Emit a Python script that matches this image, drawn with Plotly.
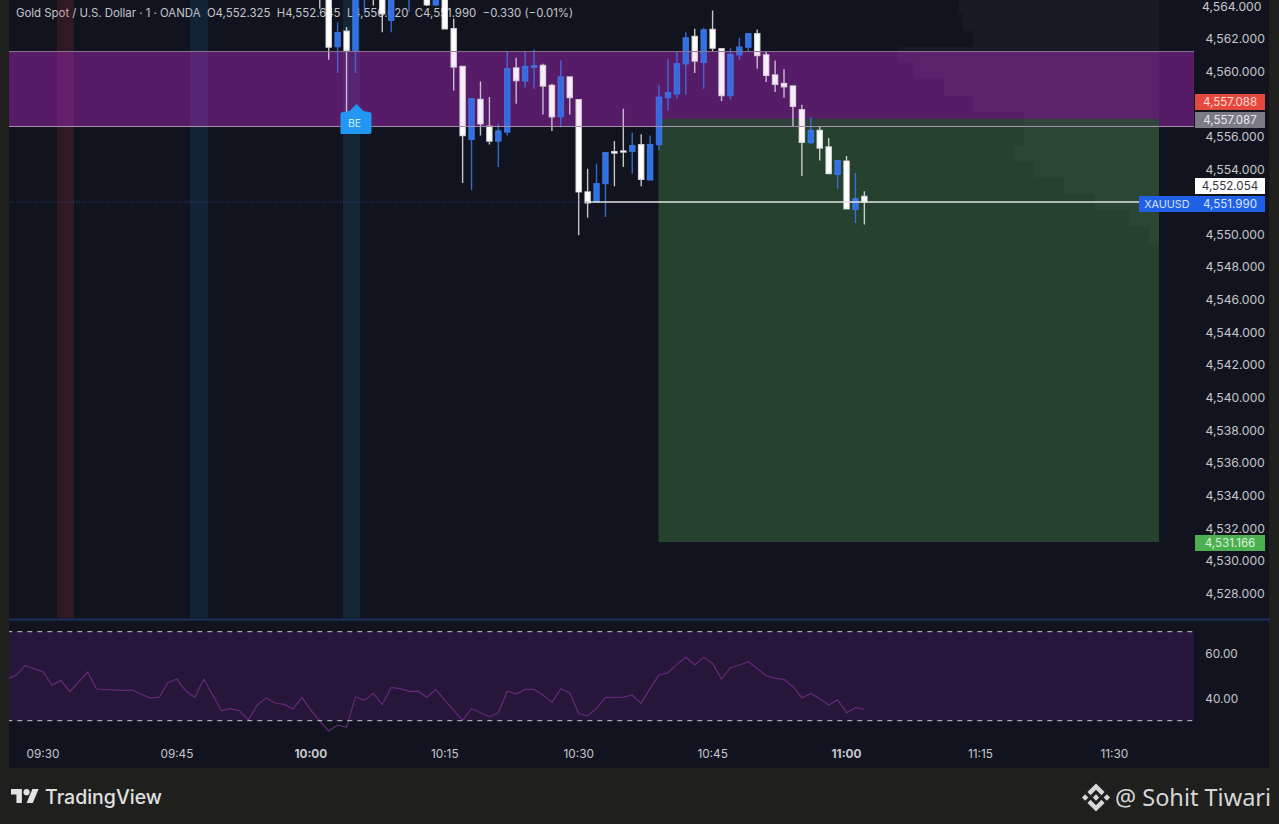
import plotly.graph_objects as go

# ---------- data ----------
candle_minutes = list(range(601, 663))  # 10:01 ... 11:02, minutes of day

candle_open = [4566.00, 4566.20, 4561.52, 4562.46, 4561.28, 4565.50, 4566.00, 4565.40, 4563.12, 4566.00,
               4565.00, 4565.80, 4565.20, 4564.07, 4565.00,
               4562.61, 4560.30, 4555.83, 4558.28, 4556.63, 4555.73, 4556.28, 4560.20, 4559.40, 4560.24,
               4560.36, 4559.14, 4557.22, 4559.65, 4558.26, 4552.61, 4551.99, 4553.12, 4555.07, 4555.12,
               4555.10, 4555.50, 4553.36, 4555.52, 4558.40, 4558.63, 4560.46, 4562.14, 4560.56, 4562.56,
               4561.38, 4558.52, 4561.01, 4561.48, 4562.30, 4561.01, 4559.77, 4559.26, 4559.10, 4557.65,
               4555.63, 4556.38, 4555.36, 4553.69, 4554.50, 4551.54, 4552.325]
candle_high = [4566.50, 4566.60, 4563.01, 4562.71, 4566.00, 4566.40, 4566.50, 4565.80, 4566.00, 4566.30,
               4566.20, 4566.00, 4565.50, 4565.30, 4565.20,
               4563.22, 4560.30, 4558.36, 4559.38, 4558.42, 4556.79, 4561.18, 4560.83, 4561.24, 4561.34,
               4560.46, 4559.24, 4560.67, 4559.69, 4558.30, 4554.03, 4554.34, 4555.05, 4555.73, 4557.71,
               4556.24, 4556.14, 4556.07, 4559.18, 4560.77, 4561.18, 4562.40, 4562.61, 4562.67, 4563.73,
               4561.42, 4561.42, 4562.05, 4562.34, 4562.56, 4561.18, 4560.67, 4560.12, 4559.10, 4557.95,
               4557.20, 4556.63, 4555.91, 4554.54, 4554.81, 4553.77, 4552.645]
candle_low = [4563.83, 4560.71, 4559.89, 4557.40, 4559.89, 4563.52, 4564.03, 4562.40, 4562.40, 4564.80,
              4563.63, 4564.70, 4564.00, 4564.00, 4562.60,
              4558.83, 4553.16, 4552.71, 4556.07, 4555.52, 4554.14, 4556.07, 4558.01, 4558.99, 4558.93,
              4557.36, 4556.34, 4556.58, 4557.36, 4549.95, 4551.03, 4551.95, 4551.07, 4552.95, 4554.14,
              4553.73, 4552.95, 4553.32, 4555.16, 4557.61, 4558.32, 4558.58, 4559.89, 4558.93, 4561.18,
              4558.18, 4558.26, 4560.71, 4561.24, 4560.16, 4559.34, 4558.73, 4558.38, 4556.63, 4553.58,
              4555.56, 4554.54, 4553.69, 4552.81, 4551.54, 4550.71, 4550.620]
candle_close = [4564.60, 4561.48, 4562.36, 4561.28, 4565.50, 4566.00, 4565.20, 4563.52, 4565.60, 4565.20,
                4565.80, 4565.10, 4564.07, 4565.00, 4562.61,
                4560.26, 4556.07, 4558.32, 4556.79, 4555.73, 4556.34, 4560.16, 4559.44, 4560.30, 4560.34,
                4559.10, 4557.22, 4559.65, 4558.40, 4552.61, 4551.95, 4553.12, 4555.01, 4554.99, 4555.05,
                4555.44, 4553.38, 4555.50, 4558.42, 4558.69, 4560.46, 4562.05, 4560.63, 4562.54, 4561.42,
                4558.52, 4561.03, 4561.48, 4562.30, 4560.97, 4559.75, 4559.20, 4559.05, 4557.85, 4555.65,
                4556.38, 4555.30, 4553.73, 4554.52, 4551.58, 4552.20, 4551.990]

rsi_minutes = list(range(566, 663))  # 09:26 ... 11:02
rsi_values = [48.58, 50.52, 54.72, 53.52, 52.02, 46.03, 48.13, 43.03, 47.53, 51.87,
              44.23, 43.93, 43.78, 43.63, 43.78, 41.99, 40.19, 40.49, 47.08, 48.73,
              43.33, 40.49, 48.73, 41.69, 34.49, 35.39, 34.49, 30.45, 37.04, 40.34,
              37.94, 37.34, 35.24, 40.49, 34.79, 29.85, 25.36, 28.05, 27.00, 40.79,
              39.14, 42.28, 37.19, 44.98, 44.38, 43.18, 43.33, 40.49, 44.08,
              39.29, 34.79, 30.15, 35.39, 33.60, 31.80, 33.60, 43.33, 41.99, 44.08,
              44.08, 41.54, 38.24, 44.38, 42.58, 33.30, 32.10, 35.54, 40.49, 40.49,
              40.64, 41.54, 37.79, 44.53, 50.52, 51.57, 55.32, 58.46, 55.02, 58.46,
              55.77, 48.73, 53.82, 55.02, 56.52, 53.52, 50.22, 49.03, 48.58, 45.28,
              40.34, 42.28, 39.89, 37.04, 39.44, 33.60, 35.84, 35.09]

profile_prices = [4564, 4563, 4562, 4561, 4560, 4559, 4558, 4557, 4556, 4555, 4554, 4553, 4552, 4551, 4550]
profile_sizes = [22.4, 21.9, 20.8, 29.2, 27.4, 24.1, 20.8, 15.1, 15.1, 16.2, 14.0, 10.6, 7.3, 3.4, 1.1]
profile_end = 695.0

price_top_tick = 4564
price_top_label = "4,564.000"
price_ticks = [4562, 4560, 4558, 4556, 4554, 4552, 4550, 4548, 4546, 4544, 4542, 4540, 4538, 4536, 4534, 4532, 4530, 4528]
price_tick_text = ["4,562.000", "4,560.000", "4,558.000", "4,556.000", "4,554.000", "4,552.000", "4,550.000",
                   "4,548.000", "4,546.000", "4,544.000", "4,542.000", "4,540.000", "4,538.000", "4,536.000",
                   "4,534.000", "4,532.000", "4,530.000", "4,528.000"]
time_ticks = [570, 585, 600, 615, 630, 645, 660, 675, 690]
time_tick_text = ["09:30", "09:45", "<b>10:00</b>", "10:15", "10:30", "10:45", "<b>11:00</b>", "11:15", "11:30"]
rsi_ticks = [60, 40]
rsi_tick_text = ["60.00", "40.00"]

zone_top, zone_bottom = 4561.21, 4556.62
target_top, target_bottom = 4557.087, 4531.166
target_start = 638.94
last_price = 4551.990
line_start, line_mid, line_end = 566.0, 631.0, 692.76
session_strips = [(571.57, 573.47, "rgba(190,50,70,0.18)"),
                  (586.47, 588.49, "rgba(33,150,243,0.12)"),
                  (603.60, 605.50, "rgba(33,190,243,0.11)")]
rsi_upper, rsi_lower = 70, 30
price_tags = [("4,557.088", 4557.088, 17, "#e5483c", "#ffdcd8"),
              ("4,557.087", 4557.087, -1, "#7b7b86", "#e8e8ec"),
              ("4,552.054", 4552.054, 15, "#ffffff", "#33333a"),
              ("4,551.990", 4551.990, -2, "#1f60e6", "#dbe6ff"),
              ("4,531.166", 4531.166, -1, "#4caf50", "#d8f5d8")]
header_text = ("Gold Spot / U.S. Dollar \u00b7 1 \u00b7 OANDA\u00a0\u00a0O4,552.325\u00a0\u00a0H4,552.645"
               "\u00a0\u00a0L4,550.620\u00a0\u00a0C4,551.990\u00a0\u00a0\u22120.330 (\u22120.01%)")

# ---------- layout helpers ----------
W, H = 1279, 824
PX = lambda v: v / W
PY = lambda v: 1 - v / H
FONT = "Inter"
TXT = "#c6c6cc"
BG = "#11141e"
FRAME = "#1f1f1e"


def poly(points, ox, oy, s, fill):
    d = "M " + " L ".join(f"{PX(ox + x * s):.5f},{PY(oy + y * s):.5f}" for x, y in points) + " Z"
    return dict(type="path", xref="paper", yref="paper", path=d, fillcolor=fill, line_width=0, layer="above")


fig = go.Figure()

fig.add_trace(go.Bar(x=[-s for s in profile_sizes], y=profile_prices, base=[profile_end] * len(profile_sizes),
                     orientation="h", width=1.0, marker=dict(color="rgba(255,255,255,0.028)", line_width=0),
                     xaxis="x", yaxis="y", showlegend=False))
fig.add_trace(go.Candlestick(x=candle_minutes, open=candle_open, high=candle_high, low=candle_low, close=candle_close,
                             increasing=dict(fillcolor="#2f70e2", line=dict(color="rgba(60,120,235,0.85)", width=1.4)),
                             decreasing=dict(fillcolor="#ffffff", line=dict(color="rgba(240,240,240,0.8)", width=1.4)),
                             whiskerwidth=0, xaxis="x", yaxis="y", showlegend=False))
fig.add_trace(go.Scatter(x=[line_start, line_mid], y=[last_price, last_price], mode="lines",
                         line=dict(color="#2c4c86", width=1, dash="1px,2px"), xaxis="x", yaxis="y", showlegend=False))
fig.add_trace(go.Scatter(x=[line_mid, line_end], y=[last_price, last_price], mode="lines",
                         line=dict(color="#dfe6e0", width=1.4), xaxis="x", yaxis="y", showlegend=False))
fig.add_trace(go.Scatter(x=rsi_minutes, y=rsi_values, mode="lines", line=dict(color="#662a7a", width=1.2),
                         xaxis="x", yaxis="y2", showlegend=False))
for lvl in (rsi_upper, rsi_lower):
    fig.add_trace(go.Scatter(x=[line_start, 700], y=[lvl, lvl], mode="lines",
                             line=dict(color="#c9c9d2", width=1, dash="5px,5px"),
                             xaxis="x", yaxis="y2", showlegend=False))

shapes = [
    dict(type="rect", xref="paper", yref="paper", x0=PX(9), x1=PX(1269), y0=PY(768), y1=PY(0),
         fillcolor=BG, line_width=0, layer="below"),
    dict(type="rect", xref="paper", yref="paper", x0=PX(10), x1=PX(600), y0=PY(22), y1=PY(4),
         fillcolor="rgba(0,0,0,0)", line_width=0, layer="below",
         label=dict(text=header_text, textposition="middle left", font=dict(family=FONT, size=11.4, color="#c4c4ca"))),
]
for x0, x1, col in session_strips:
    shapes.append(dict(type="rect", xref="x", yref="y domain", x0=x0, x1=x1, y0=0, y1=1,
                       fillcolor=col, line_width=0, layer="below"))
shapes += [
    dict(type="rect", xref="x", yref="y", x0=target_start, x1=profile_end, y0=target_bottom, y1=target_top,
         fillcolor="#26422f", line_width=0, layer="below"),
    dict(type="rect", xref="x domain", yref="y", x0=0, x1=1, y0=zone_bottom, y1=zone_top,
         fillcolor="rgba(156,39,176,0.46)", line_width=0, layer="below"),
    dict(type="rect", xref="x domain", yref="y", x0=0, x1=1, y0=zone_bottom, y1=zone_top,
         fillcolor="rgba(156,39,176,0.08)", line_width=0, layer="above"),
    dict(type="line", xref="x domain", yref="y", x0=0, x1=1, y0=zone_top, y1=zone_top,
         line=dict(color="#8b7691", width=1), layer="above"),
    dict(type="line", xref="x domain", yref="y", x0=0, x1=1, y0=zone_bottom, y1=zone_bottom,
         line=dict(color="#a98fae", width=1), layer="above"),
    dict(type="rect", xref="x domain", yref="y2", x0=0, x1=1, y0=rsi_lower, y1=rsi_upper,
         fillcolor="#25163a", line_width=0, layer="below"),
    dict(type="line", xref="paper", yref="paper", x0=PX(9), x1=PX(1270), y0=PY(619.5), y1=PY(619.5),
         line=dict(color="#1d2f5e", width=2), layer="above"),
    # "BE" flag, anchored on the 10:05 bar
    dict(type="path", xsizemode="pixel", ysizemode="pixel", xref="x", yref="y", xanchor=605, yanchor=4556.83,
         path="M -14,-11 L 14,-11 Q 16,-11 16,-9 L 16,9 Q 16,11 13,11 L 8,12 L 1,19 L -6,12 L -12,11 "
              "Q -15,11 -15,9 L -15,-9 Q -15,-11 -14,-11 Z",
         fillcolor="#2196f3", line_width=0, layer="above"),
]
# TradingView mark
tv = 28 / 36
shapes.append(poly([(14, 22), (7, 22), (7, 11), (0, 11), (0, 4), (14, 4)], 11, 786, tv, "#e2e2e2"))
shapes.append(poly([(28, 22), (20, 22), (27.5, 4), (35.5, 4)], 11, 786, tv, "#e2e2e2"))
shapes.append(dict(type="circle", xref="paper", yref="paper", x0=PX(11 + 16 * tv), x1=PX(11 + 24 * tv),
                   y0=PY(786 + 12 * tv), y1=PY(786 + 4 * tv), fillcolor="#e2e2e2", line_width=0, layer="above"))
# Binance mark
bs = 28 / 126.6
for pts in (
    [(38.73, 53.2), (63.32, 28.62), (87.92, 53.22), (102.22, 38.91), (63.32, 0), (24.42, 38.9)],
    [(0, 63.31), (14.3, 49), (28.61, 63.31), (14.3, 77.61)],
    [(38.73, 73.41), (63.32, 98), (87.92, 73.4), (102.23, 87.69), (63.33, 126.6), (24.42, 87.72)],
    [(98, 63.31), (112.3, 49), (126.61, 63.3), (112.3, 77.62)],
    [(77.83, 63.3), (63.32, 48.78), (48.81, 63.28), (63.32, 77.79)],
):
    shapes.append(poly(pts, 1082, 783.5, bs, "#d8d8d8"))

price_font = dict(family=FONT, size=12.2, color=TXT)
tick_font = dict(family=FONT, size=11.8, color=TXT)

annotations = [
    dict(text=price_top_label, x=PX(1202), y=price_top_tick, xref="paper", yref="y", xanchor="left", yanchor="middle",
         showarrow=False, font=price_font, borderpad=0, borderwidth=0),
    dict(text="BE", x=605, y=4556.83, xref="x", yref="y", showarrow=False,
         font=dict(family=FONT, size=10.5, color="#d5ebff"), xshift=-1),
    dict(text="XAUUSD", x=PX(1167), y=last_price, xref="paper", yref="y", yshift=-2, showarrow=False,
         xanchor="center", width=54, height=14, borderpad=1, borderwidth=0, bgcolor="#1f60e6",
         font=dict(family=FONT, size=10.8, color="#d5e2ff")),
    dict(text="TradingView", x=PX(43), y=PY(796.5), xref="paper", yref="paper", xanchor="left", yanchor="middle",
         showarrow=False, font=dict(family=FONT, size=19.5, color="#e0e0e0", weight=500)),
    dict(text="@ Sohit Tiwari", x=PX(1113), y=PY(797), xref="paper", yref="paper", xanchor="left", yanchor="middle",
         showarrow=False, font=dict(family="Noto Sans", size=23.5, color="#d6d6d6")),
]
for label, price, shift, bg, fg in price_tags:
    annotations.append(dict(text=label, x=PX(1230), y=price, xref="paper", yref="y", yshift=shift, showarrow=False,
                            xanchor="center", width=68, height=14, borderpad=1, borderwidth=0, bgcolor=bg,
                            font=dict(family=FONT, size=11.6, color=fg)))

fig.update_layout(
    width=W, height=H, margin=dict(l=0, r=0, t=0, b=0), autosize=False,
    paper_bgcolor=FRAME, plot_bgcolor="rgba(0,0,0,0)", showlegend=False, barmode="overlay", bargap=0,
    boxgap=0.18, hovermode=False, shapes=shapes, annotations=annotations,
    xaxis=dict(domain=[PX(9), PX(1194)], range=[570 + (9 - 43) / 8.928, 570 + (1194 - 43) / 8.928],
               anchor="y2", tickmode="array", tickvals=time_ticks, ticktext=time_tick_text,
               tickfont=tick_font, ticks="", showgrid=False, zeroline=False, showline=False,
               rangeslider=dict(visible=False)),
    yaxis=dict(domain=[PY(618), 1], range=[4564.37 - 618 / 16.32, 4564.37], side="right", anchor="x",
               tickmode="array", tickvals=price_ticks, ticktext=price_tick_text, tickfont=price_font,
               ticks="outside", ticklen=8, tickcolor="rgba(0,0,0,0)",
               showgrid=False, zeroline=False, showline=False),
    yaxis2=dict(domain=[PY(745), PY(620)], range=[70 - (745 - 631.7) / 2.225, 70 + (631.7 - 620) / 2.225],
                side="right", anchor="x", tickmode="array", tickvals=rsi_ticks, ticktext=rsi_tick_text,
                tickfont=tick_font, ticks="outside", ticklen=8, tickcolor="rgba(0,0,0,0)",
                showgrid=False, zeroline=False, showline=False),
)

fig.write_html("out.html", config=dict(displayModeBar=False),
               post_script="document.body.style.margin='0';document.body.style.overflow='hidden';")
